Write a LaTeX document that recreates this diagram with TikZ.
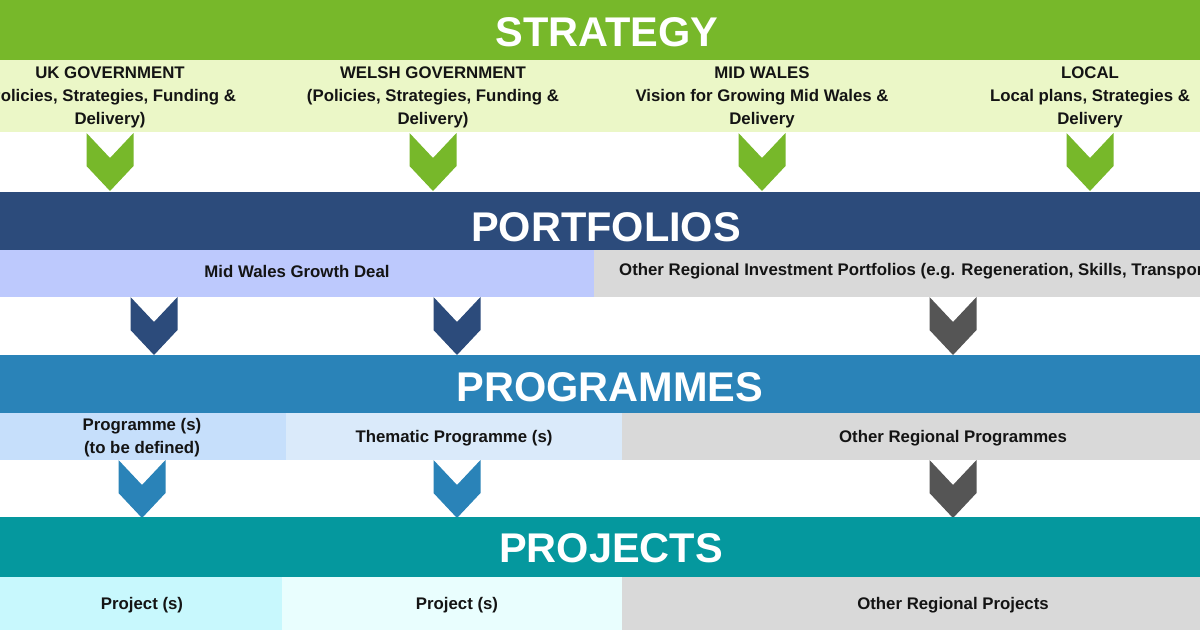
\documentclass[tikz,border=0pt]{standalone}
\usepackage{fontspec}
\setmainfont{Liberation Sans}
\usetikzlibrary{positioning}

\definecolor{stratgreen}{HTML}{77B82A}
\definecolor{stratlight}{HTML}{EBF7C7}
\definecolor{portblue}{HTML}{2C4B7B}
\definecolor{portlight}{HTML}{BDC9FD}
\definecolor{othergrey}{HTML}{D9D9D9}
\definecolor{chevgrey}{HTML}{555555}
\definecolor{progblue}{HTML}{2A83B8}
\definecolor{proglight}{HTML}{C6DFFB}
\definecolor{progpale}{HTML}{DAEAFA}
\definecolor{projteal}{HTML}{05989E}
\definecolor{projlight}{HTML}{C8F8FD}
\definecolor{projpale}{HTML}{E9FEFE}
\definecolor{inktext}{HTML}{141414}

\tikzset{
  bartitle/.style={text=white, inner sep=0pt, font=\fontsize{41.5}{44}\selectfont\bfseries},
  rowtext/.style={text=inktext, inner sep=0pt, align=center, font=\fontsize{16.8}{23.2}\selectfont\bfseries},
}
% chevron: colour, centre x, top y
\newcommand{\chevron}[3]{\fill[#1] (#2-23.5,#3) -- (#2,#3+25) -- (#2+23.5,#3) -- (#2+23.5,#3+33) -- (#2,#3+58) -- (#2-23.5,#3+33) -- cycle;}

\begin{document}
\begin{tikzpicture}[x=1pt,y=-1pt]
        \useasboundingbox (0,0) rectangle (1200,630);
        \clip (0,0) rectangle (1200,630);
        \fill[white] (0,0) rectangle (1200,630);

        % strategy
        \fill[stratgreen] (0,0) rectangle (1200,60);
        \fill[stratlight] (0,60) rectangle (1200,132);
        \node[bartitle] (strategy) at (607,32) {STRATEGY};
        \node[rowtext] (ukgov) at (110,97.5) {UK GOVERNMENT\\(Policies, Strategies, Funding \&\\Delivery)};
        \node[rowtext] (welshgov) at (433,97.5) {WELSH GOVERNMENT\\(Policies, Strategies, Funding \&\\Delivery)};
        \node[rowtext] (midwales) at (762,97.5) {MID WALES\\Vision for Growing Mid Wales \&\\Delivery};
        \node[rowtext] (local) at (1090,97.5) {LOCAL\\Local plans, Strategies \&\\Delivery};
        \foreach \cx in {110,433,762,1090}{
          \chevron{stratgreen}{\cx}{133}
        }

        % portfolios
        \fill[portblue] (0,192) rectangle (1200,250);
        \fill[portlight] (0,250) rectangle (594,297);
        \fill[othergrey] (594,250) rectangle (1200,297);
        \node[bartitle] (portfolios) at (606,227) {PORTFOLIOS};
        \node[rowtext] (growthdeal) at (297,271) {Mid Wales Growth Deal};
        \node[rowtext, anchor=west] (otherport) at (619,271) {Other Regional Investment Portfolios (e.g. Regeneration, Skills, Transport)};
        \chevron{portblue}{154}{297}
        \chevron{portblue}{457}{297}
        \chevron{chevgrey}{953}{297}

        % programmes
        \fill[progblue] (0,355) rectangle (1200,413);
        \fill[proglight] (0,413) rectangle (286,460);
        \fill[progpale] (286,413) rectangle (622,460);
        \fill[othergrey] (622,413) rectangle (1200,460);
        \node[bartitle] (programmes) at (610,387) {PROGRAMMES};
        \node[rowtext] (progdef) at (142,438) {Programme (s)\\(to be defined)};
        \node[rowtext] (thematic) at (454,438.5) {Thematic Programme (s)};
        \node[rowtext] (otherprog) at (953,438.5) {Other Regional Programmes};
        \chevron{progblue}{142}{460}
        \chevron{progblue}{457}{460}
        \chevron{chevgrey}{953}{460}

        % projects
        \fill[projteal] (0,517) rectangle (1200,577);
        \fill[projlight] (0,577) rectangle (282,630);
        \fill[projpale] (282,577) rectangle (622,630);
        \fill[othergrey] (622,577) rectangle (1200,630);
        \node[bartitle] (projects) at (611,548) {PROJECTS};
        \node[rowtext] (projA) at (142,605.5) {Project (s)};
        \node[rowtext] (projB) at (457,605.5) {Project (s)};
        \node[rowtext] (otherproj) at (953,605.5) {Other Regional Projects};
\end{tikzpicture}
\end{document}
